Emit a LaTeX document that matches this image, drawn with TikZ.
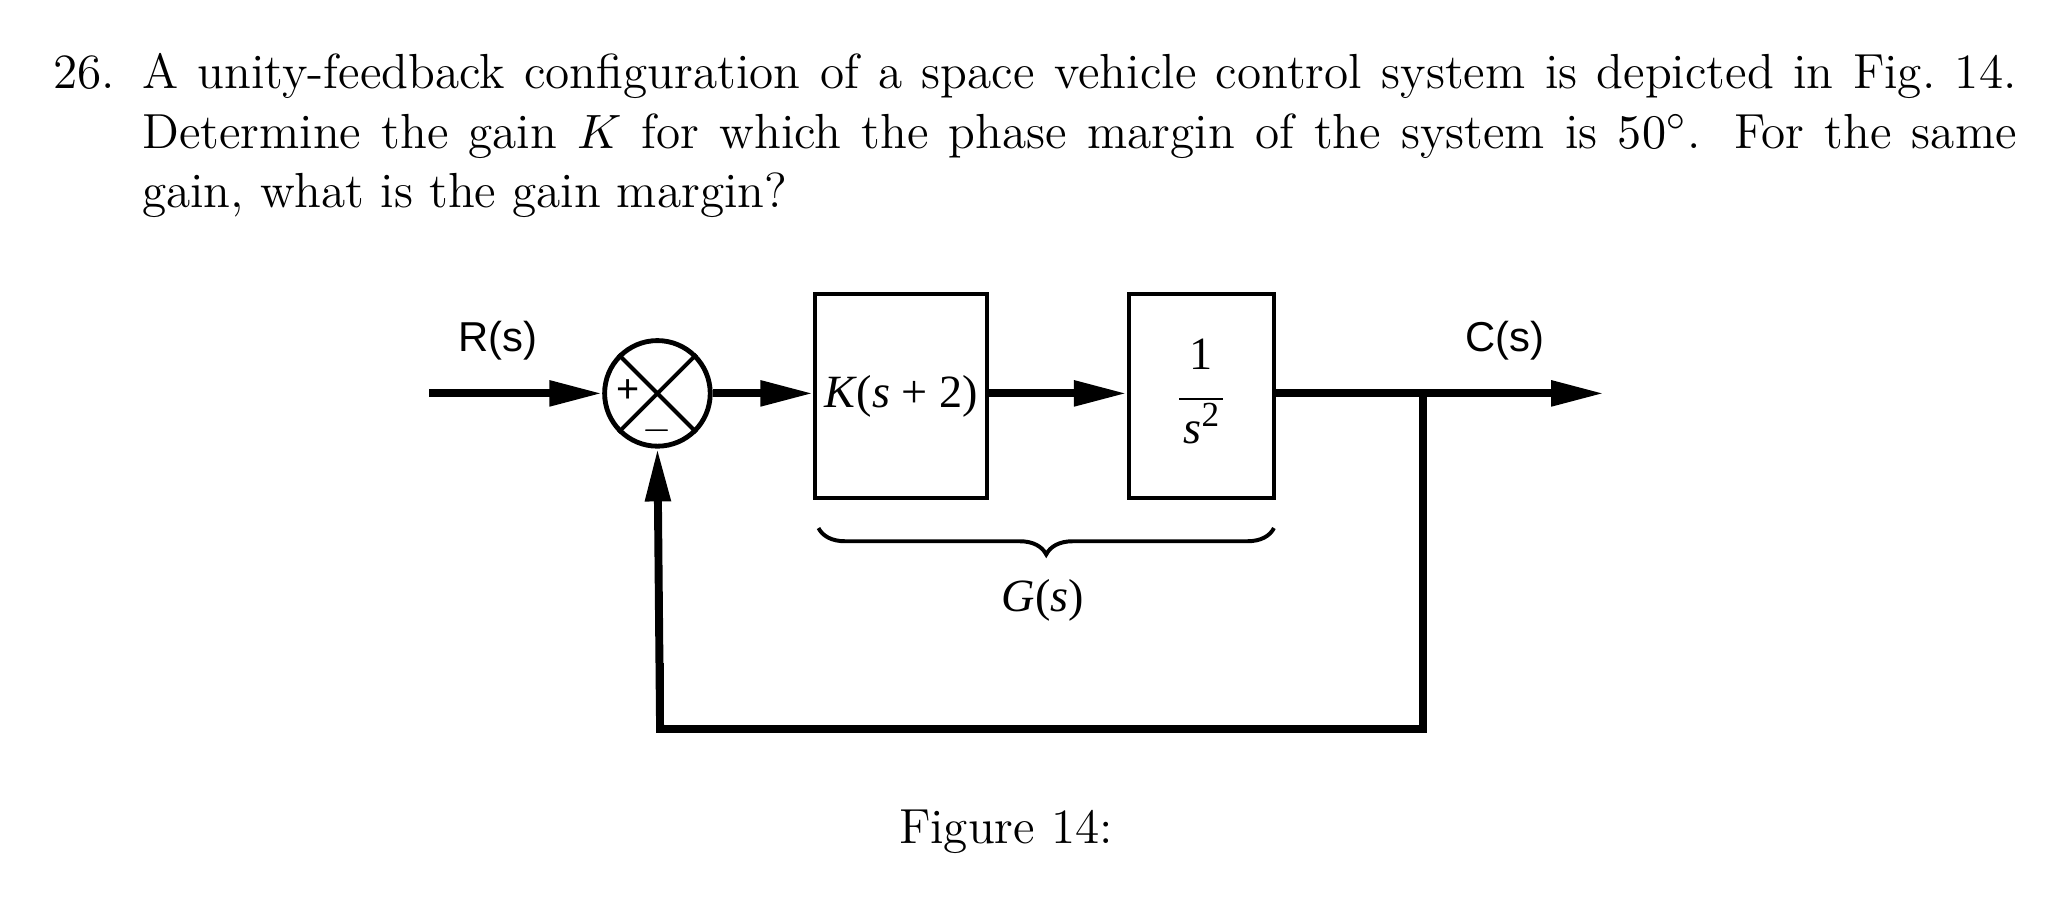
\documentclass[tikz,border=0pt]{standalone}
\usepackage{fontspec}
\newfontfamily\arialf{Liberation Sans}
\newfontfamily\timesf{Liberation Serif}
\usetikzlibrary{arrows.meta,decorations.pathreplacing}
\begin{document}
\begin{tikzpicture}[x=0.3pt,y=-0.3pt,
  sig/.style={line width=1.8pt},
  arr/.style={sig,-{Triangle[length=12pt,width=5.5pt]}},
  blk/.style={draw,line width=0.9pt,minimum width=39pt,minimum height=46.5pt,inner sep=0pt},
  lbl/.style={font=\arialf\fontsize{9.5}{11}\selectfont},
  tim/.style={font=\timesf\fontsize{10.5}{12}\selectfont}]
\useasboundingbox (0,0) rectangle (1568,694);
\node[anchor=north west,inner sep=0pt,font=\fontsize{11.2}{13.5}\selectfont] (num) at (40,35) {\strut 26.};
\node[anchor=north west,inner sep=0pt,text width=426pt,font=\fontsize{11.2}{13.5}\selectfont,align=justify] (txt) at (107,35)
{\strut A unity-feedback configuration of a space vehicle control system is depicted in Fig.~14.\linebreak[4]
Determine the gain $K$ for which the phase margin of the system is $50^\circ$. For the same\linebreak[4]
gain, what is the gain margin?};
\coordinate (in) at (325,298);
\node[draw,circle,line width=1.1pt,minimum size=24pt,inner sep=0pt] (sum) at (498,298) {};
\draw[line width=0.9pt] (sum.north west)--(sum.south east) (sum.north east)--(sum.south west);
\node[font=\arialf\fontsize{9}{10}\selectfont] at (476,296) {+};
\node[font=\arialf\fontsize{8}{9}\selectfont] at (498,326) {$-$};
\node[blk] (b1) at (682.5,300) {};
\node[tim,inner sep=0pt] at (682.5,300) {\textit{K}(\textit{s} + 2)};
\node[blk,minimum width=33pt] (b2) at (910,300) {};
\node[tim,inner sep=0pt] (fr) at (910,300) {\begin{tabular}{@{}c@{}}1\\[-5pt]\rule{10pt}{0.5pt}\\[-3pt]\textit{s}\raisebox{4pt}{\fontsize{8}{9}\selectfont 2}\end{tabular}};
\coordinate (br) at (1078,298);
\coordinate (out) at (1215,298);
\coordinate (bot1) at (1078,552);
\coordinate (bot2) at (500,552);
\draw[arr] (in)--(sum.west);
\draw[arr] (sum.east)--(b1.west |- sum.east);
\draw[arr] (b1.east |- sum.east)--(b2.west |- sum.east);
\draw[arr] (b2.east |- sum.east)--(out);
\draw[sig,line join=miter] (br)--(bot1)--(bot2)--++(0,-50);
\draw[arr] (bot2)--(sum.south);
\node[lbl] at (377,258) {R(s)};
\node[lbl] at (1140,258) {C(s)};
\draw[line width=0.9pt,decorate,decoration={brace,mirror,amplitude=6pt}] (620,400)--(965,400);
\node[tim] at (790,455) {\textit{G}(\textit{s})};
\node[font=\fontsize{11.2}{13.5}\selectfont] at (762,630) {Figure 14:};
\end{tikzpicture}
\end{document}
